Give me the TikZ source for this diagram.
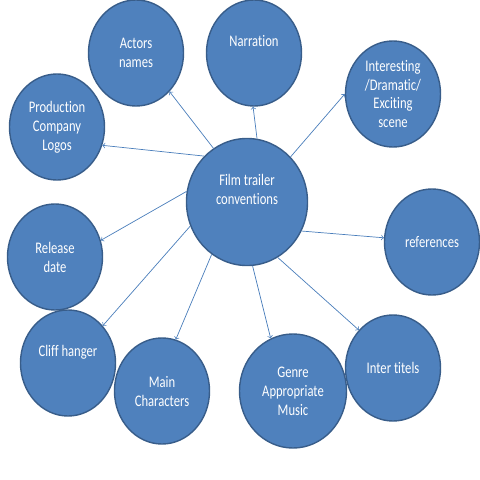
\documentclass[tikz,border=0pt]{standalone}
\usepackage{fontspec}
\setmainfont{Carlito}[FakeStretch=0.78,Ligatures=NoCommon]
\usepackage{tikz}
\usetikzlibrary{shapes,arrows,positioning}
\definecolor{bubblefill}{HTML}{4F81BD}
\definecolor{bubbleline}{HTML}{385D8A}
\definecolor{linkcol}{HTML}{4A7EBB}

\begin{document}
\begin{tikzpicture}[x=0.025cm,y=-0.025cm,
	bubble/.style={ellipse,draw=bubbleline,line width=1pt,fill=bubblefill,text=white,
		align=center,inner sep=0pt,minimum width=2.375cm,minimum height=2.65cm,
		font=\fontsize{11.5}{13.5}\selectfont},
	link/.style={draw=linkcol,line width=0.5pt,->}]
	\useasboundingbox (0,0) rectangle (480,480);
	% centre
	\node[bubble,minimum width=3.025cm,minimum height=3.175cm] (ftc) at (247,202) {Film trailer\\conventions\\\strut};
	% ring of conventions
	\node[bubble] (actors) at (136,53) {Actors\\names};
	\node[bubble] (narr) at (254,53) {Narration\\\strut};
	\node[bubble] (scene) at (393,94) {Interesting\\/Dramatic/\\Exciting\\scene};
	\node[bubble] (logos) at (57,127) {Production\\Company\\Logos};
	\node[bubble] (release) at (55,257) {Release\\date};
	\node[bubble] (cliff) at (68,363) {Cliff hanger\\\strut};
	\node[bubble] (chars) at (162,391) {Main\\Characters};
	\node[bubble,minimum width=2.675cm,minimum height=2.85cm] (music) at (293,391) {Genre\\Appropriate\\Music};
	\node[bubble] (titles) at (393,368) {Inter titels};
	\node[bubble] (refs) at (432,242) {references};
	% arrows out of the centre
	\foreach \s/\t/\e in {122/actors/311, 133/logos/338, 170/release/20, 203/cliff/47,
		236/chars/75, 275/music/113, 299/titles/132, 332/refs/175, 46/scene/180, 81/narr/269} {
		\draw[link] (ftc.\s) -- (\t.\e);
	}
\end{tikzpicture}
\end{document}
